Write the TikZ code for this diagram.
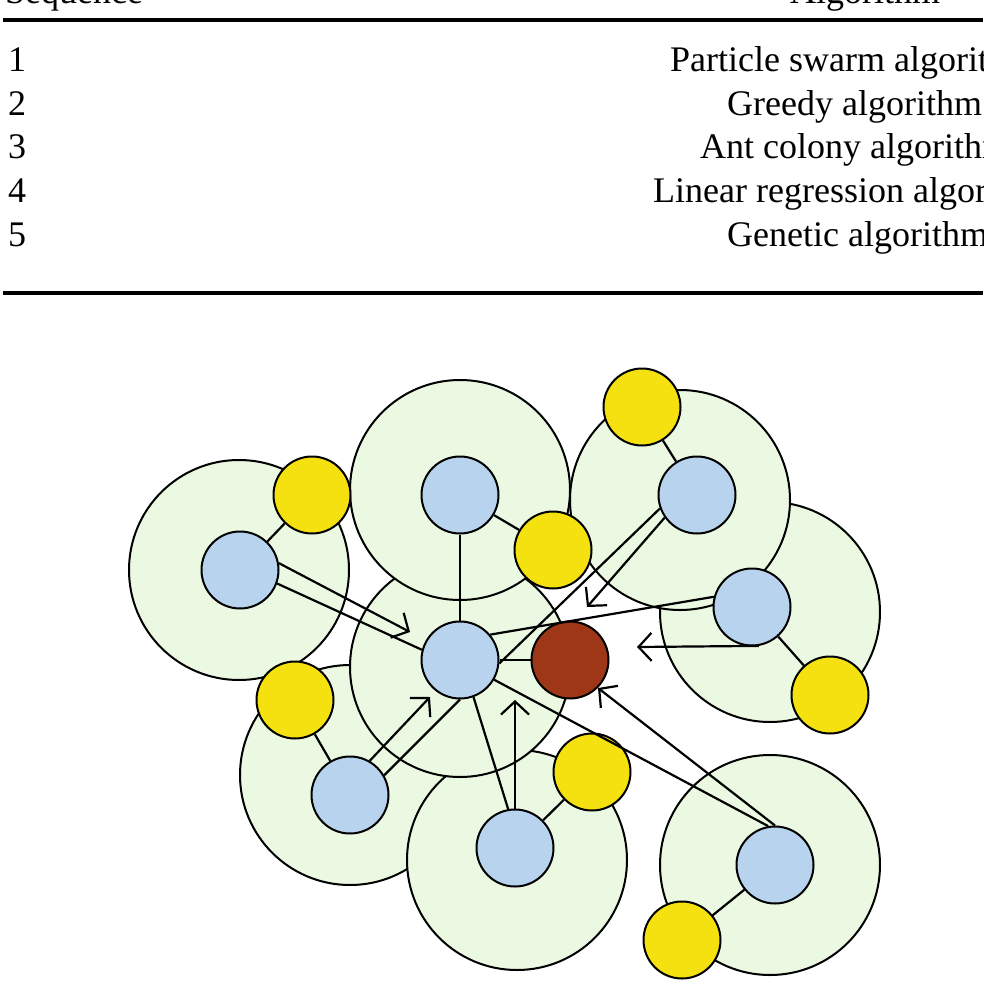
\documentclass[tikz,border=0pt]{standalone}
\usepackage{fontspec}
\setmainfont{Liberation Serif}
\usetikzlibrary{arrows.meta}
\definecolor{gbig}{HTML}{EBF8E2}
\definecolor{bsm}{HTML}{B8D3EE}
\definecolor{ysm}{HTML}{F5E010}
\definecolor{rsm}{HTML}{9E3618}
\tikzset{
 big/.style={circle,draw=black,line width=2pt,fill=gbig,minimum size=220pt,inner sep=0pt},
 blu/.style={circle,draw=black,line width=2pt,fill=bsm,minimum size=77pt,inner sep=0pt},
 yel/.style={circle,draw=black,line width=2pt,fill=ysm,minimum size=77pt,inner sep=0pt},
 red/.style={circle,draw=black,line width=2pt,fill=rsm,minimum size=77pt,inner sep=0pt},
 ln/.style={line width=2.2pt},
 arr/.style={line width=2.2pt,-{Straight Barb[length=13pt,width=28pt,line width=2.2pt]}},
 txt/.style={font=\fontsize{36}{40}\selectfont,inner sep=0pt,anchor=base west}
}
\begin{document}
\begin{tikzpicture}[x=1pt,y=-1pt]
\useasboundingbox (0,0) rectangle (983,985);
\clip (0,0) rectangle (983,985);
% table
\node[txt] (h1) at (5,3) {Sequence};
\node[txt] (h2) at (790,3) {Algorithm};
\draw[line width=3.5pt] (3,20) -- (983,20);
\node[txt] (n1) at (8,71) {1};
\node[txt] (t1) at (670,71) {Particle swarm algorithm};
\node[txt] (n2) at (8,115) {2};
\node[txt] (t2) at (727,115) {Greedy algorithm};
\node[txt] (n3) at (8,158) {3};
\node[txt] (t3) at (700,158) {Ant colony algorithm};
\node[txt] (n4) at (8,202) {4};
\node[txt] (t4) at (653,202) {Linear regression algorithm};
\node[txt] (n5) at (8,246) {5};
\node[txt] (t5) at (727,246) {Genetic algorithm};
\draw[line width=3.5pt] (3,293) -- (983,293);
% big circles
\node[big] (F) at (350,775) {};
\node[big] (G) at (517,860) {};
\node[big] (H) at (770,865) {};
\node[big] (E) at (770,612) {};
\node[big] (A) at (239,570) {};
\node[big] (C) at (460,667) {};
\node[big] (B) at (460,490) {};
\node[big] (D) at (680,500) {};
% coordinates for arrow ends
\coordinate (aA) at (410,632);
\coordinate (aD) at (587,607);
\coordinate (aE) at (637,647);
\coordinate (aF) at (430,697);
\coordinate (aG) at (515,700);
\coordinate (aH) at (598,688);
% small circles
\node[blu] (c) at (460,660) {};
\node[red] (r) at (570,660) {};
\node[blu] (Ab) at (240,570) {};
\node[blu] (Bb) at (460,495) {};
\node[blu] (Db) at (697,495) {};
\node[blu] (Eb) at (752,607) {};
\node[blu] (Fb) at (350,795) {};
\node[blu] (Gb) at (515,848) {};
\node[blu] (Hb) at (775,865) {};
\node[yel] (Ay) at (312,495) {};
\node[yel] (By) at (553,550) {};
\node[yel] (Dy) at (642,407) {};
\node[yel] (Ey) at (830,695) {};
\node[yel] (Fy) at (295,700) {};
\node[yel] (Gy) at (592,772) {};
\node[yel] (Hy) at (682,940) {};
% pair links
\draw[ln] (Ab) -- (Ay); \draw[ln] (Bb) -- (By); \draw[ln] (Db) -- (Dy);
\draw[ln] (Eb) -- (Ey); \draw[ln] (Fb) -- (Fy); \draw[ln] (Gb) -- (Gy);
\draw[ln] (Hb) -- (Hy);
\draw[ln] (c) -- (Bb); \draw[ln] (c) -- (r);
% lines to center
\draw[ln] (Ab.-20) -- (c.165);
\draw[ln] (Db.200) -- (c.-5);
\draw[ln] (Eb.165) -- (c.40);
\draw[ln] (Fb.30) -- (c.-90);
\draw[ln] (Gb.100) -- (c.-70);
\draw[ln] (Hb.100) -- (c.-30);
% arrows
\draw[arr] (Ab.10) -- (aA);
\draw[arr] (Db.215) -- (aD);
\draw[arr] (Eb.-80) -- (aE);
\draw[arr] (Fb.60) -- (aF);
\draw[arr,line width=2.8pt] (Gb.90) -- (aG);
\draw[arr] (Hb.90) -- (aH);
\end{tikzpicture}
\end{document}
